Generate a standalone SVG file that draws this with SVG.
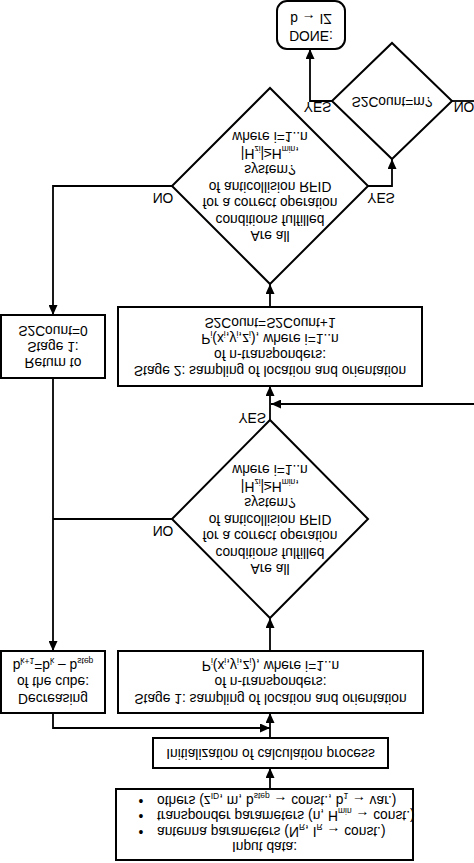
<svg xmlns="http://www.w3.org/2000/svg" width="474" height="863" viewBox="0 0 474 863">
<style>
.b{fill:#fff;stroke:#000;stroke-width:2}
.c{fill:none;stroke:#000;stroke-width:1.8}
text{font-family:"Liberation Sans",Arial,sans-serif;font-size:13.8px;fill:#000;text-anchor:middle}
.l{text-anchor:start}
.s{font-size:8.5px}
</style>
<defs>
<marker id="ah" markerUnits="userSpaceOnUse" markerWidth="10" markerHeight="9" refX="10" refY="4.5" orient="auto">
<path d="M0,0 L10,4.5 L0,9 z" fill="#000"/>
</marker>
</defs>
<rect width="474" height="863" fill="#fff"/>
<g transform="matrix(1 0 0 -1 0 863)">
<g id="connectors">
<path class="c" d="M270,74 V95" marker-end="url(#ah)"/>
<path class="c" d="M270,125 V150" marker-end="url(#ah)"/>
<path class="c" d="M53,150 V135 H270" marker-end="url(#ah)"/>
<path class="c" d="M270,212 V245" marker-end="url(#ah)"/>
<path class="c" d="M172,344 H53"/>
<path class="c" d="M53,485 V212" marker-end="url(#ah)"/>
<path class="c" d="M270,443 V477" marker-end="url(#ah)"/>
<path class="c" d="M474,459 H271" marker-end="url(#ah)"/>
<path class="c" d="M270,556 V579" marker-end="url(#ah)"/>
<path class="c" d="M172,677 H53 V548" marker-end="url(#ah)"/>
<path class="c" d="M368,677 H392 V704" marker-end="url(#ah)"/>
<path class="c" d="M332,762 H310 V814" marker-end="url(#ah)"/>
<path class="c" d="M452,762 H474"/>
<text x="163" y="337">NO</text>
<text x="266" y="450" style="text-anchor:end">YES</text>
<text x="163" y="670.5">NO</text>
<text x="381" y="670.5">YES</text>
<text x="317.5" y="761.5">YES</text>
<text x="464" y="761.5">NO</text>
</g>
<g id="input">
<rect class="b" x="116" y="3" width="297" height="71"/>
<text x="264.5" y="21">Input data:</text>
<text x="141" y="36.5">•</text>
<text class="l" x="157" y="36.5">antenna parameters (N<tspan class="s" baseline-shift="-3">R</tspan>, I<tspan class="s" baseline-shift="-3">R</tspan> → const.)</text>
<text x="141" y="52.5">•</text>
<text class="l" x="157" y="52.5">transponder parameters (n, H<tspan class="s" baseline-shift="-3">min</tspan> → const.)</text>
<text x="141" y="67.5">•</text>
<text class="l" x="157" y="67.5">others (z<tspan class="s" baseline-shift="-3">ID</tspan>, m, b<tspan class="s" baseline-shift="-3">step</tspan> → const., b<tspan class="s" baseline-shift="-3">1</tspan> → var.)</text>
</g>
<g id="init">
<rect class="b" x="153" y="95" width="235" height="30"/>
<text x="270.5" y="114.5">Initialization of calculation process</text>
</g>
<g id="stage1">
<rect class="b" x="118" y="150" width="305" height="62"/>
<text x="270.5" y="169.5">Stage 1: sampling of location and orientation</text>
<text x="270.5" y="186">of n-transponders:</text>
<text x="270.5" y="202.5">P<tspan class="s" baseline-shift="-3">i</tspan>(x<tspan class="s" baseline-shift="-3">i</tspan>,y<tspan class="s" baseline-shift="-3">i</tspan>,z<tspan class="s" baseline-shift="-3">i</tspan>), where i=1..n</text>
</g>
<g id="decreasing">
<rect class="b" x="1" y="150" width="104" height="62"/>
<text x="53" y="169.5">Decreasing</text>
<text x="53" y="186">of the cube:</text>
<text x="53" y="202.5">b<tspan class="s" baseline-shift="-3">k+1</tspan>=b<tspan class="s" baseline-shift="-3">k</tspan> – b<tspan class="s" baseline-shift="-3">step</tspan></text>
</g>
<g id="decision1">
<path class="b" d="M270,245 L368,344 L270,443 L172,344 Z"/>
<text x="270" y="299">Are all</text>
<text x="270" y="315.5">conditions fulfilled</text>
<text x="270" y="332">for a correct operation</text>
<text x="270" y="348.5">of anticollision RFID</text>
<text x="270" y="365">system?</text>
<text x="270" y="381.5">|H<tspan class="s" baseline-shift="-3">zi</tspan>|≥H<tspan class="s" baseline-shift="-3">min</tspan>,</text>
<text x="270" y="398">where i=1..n</text>
</g>
<g id="stage2">
<rect class="b" x="118" y="477" width="304" height="79"/>
<text x="270" y="497">Stage 2: sampling of location and orientation</text>
<text x="270" y="513">of n-transponders:</text>
<text x="270" y="529">P<tspan class="s" baseline-shift="-3">i</tspan>(x<tspan class="s" baseline-shift="-3">i</tspan>,y<tspan class="s" baseline-shift="-3">i</tspan>,z<tspan class="s" baseline-shift="-3">i</tspan>), where i=1..n</text>
<text x="270" y="545">S2Count=S2Count+1</text>
</g>
<g id="return">
<rect class="b" x="1" y="485" width="104" height="63"/>
<text x="53" y="505">Return to</text>
<text x="53" y="521">Stage 1:</text>
<text x="53" y="537">S2Count=0</text>
</g>
<g id="decision2">
<path class="b" d="M270,579 L368,677 L270,775 L172,677 Z"/>
<text x="270" y="632">Are all</text>
<text x="270" y="648.5">conditions fulfilled</text>
<text x="270" y="665">for a correct operation</text>
<text x="270" y="681.5">of anticollision RFID</text>
<text x="270" y="698">system?</text>
<text x="270" y="714.5">|H<tspan class="s" baseline-shift="-3">zi</tspan>|≥H<tspan class="s" baseline-shift="-3">min</tspan>,</text>
<text x="270" y="731">where i=1..n</text>
</g>
<g id="decision3">
<path class="b" d="M392,704 L452,762 L392,820 L332,762 Z"/>
<text x="392" y="766.5">S2Count=m?</text>
</g>
<g id="done">
<rect class="b" x="277" y="814" width="68" height="48" rx="10"/>
<text x="311" y="832.5">DONE:</text>
<text x="311" y="849.5">b → IZ</text>
</g>
</g>
</svg>
